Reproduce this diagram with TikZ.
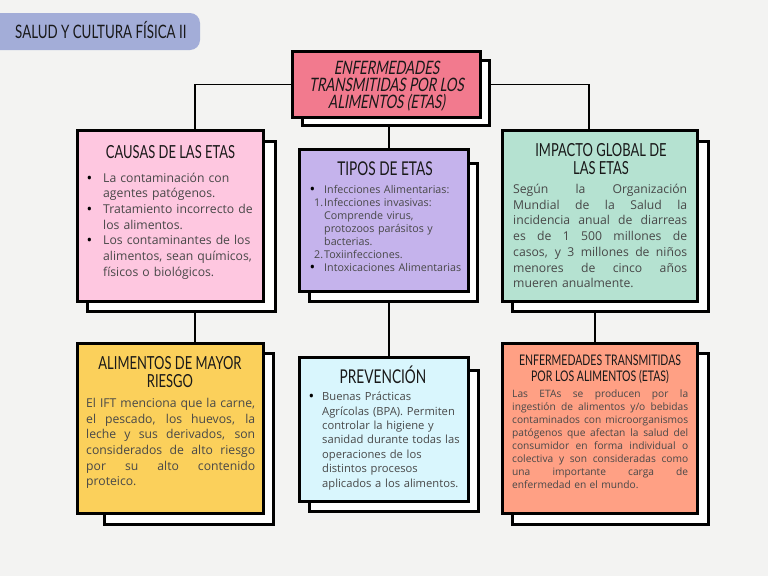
\documentclass[tikz,border=0pt]{standalone}
\usepackage{fontspec}
\usepackage{tikz}
\usetikzlibrary{backgrounds}
\setmainfont{Open Sans}
\newfontfamily\titlefont[FakeStretch=0.72]{Lato}
\newfontfamily\slantfont[FakeStretch=0.72,FakeSlant=0.18]{Lato}
\definecolor{papel}{HTML}{F3F3F2}
\definecolor{lila}{HTML}{A3ADD8}
\definecolor{rojo}{HTML}{F27A8E}
\definecolor{rosa}{HTML}{FEC7E0}
\definecolor{morado}{HTML}{C5B3EC}
\definecolor{verde}{HTML}{B5E2D1}
\definecolor{amarillo}{HTML}{FBD05B}
\definecolor{celeste}{HTML}{D9F6FD}
\definecolor{salmon}{HTML}{FFA084}
\definecolor{letra}{HTML}{484848}
\newcommand{\jl}[1]{\makebox[\hsize][s]{\spaceskip=0pt\xspaceskip=0pt #1}\\}
\newcommand{\pto}[1]{\leavevmode\llap{\raisebox{-1pt}{\color{black}\fontsize{15}{15}\selectfont\textbullet}\hspace{#1}}}
\newcommand{\num}[1]{\leavevmode\llap{#1\hspace{1pt}}}
\tikzset{%
  caja/.style = {rectangle,draw=black,line width=3pt,minimum width=186pt,
        minimum height=171pt},
  sombra/.style = {caja,fill=white},
  titulo/.style = {align=center,inner sep=0pt,text=black!90,
        font=\titlefont\fontsize{18}{18}\selectfont},
  cuerpo/.style = {anchor=north west,inner sep=0pt,align=left,text=letra,
        font=\fontsize{12.2}{15.7}\selectfont},
  chico/.style = {cuerpo,font=\fontsize{10.2}{13}\selectfont},
  medio/.style = {cuerpo,font=\fontsize{11.2}{14.4}\selectfont},
  linea/.style = {draw=black,line width=1.5pt},
  lineagruesa/.style = {draw=black,line width=2.5pt}
}
\begin{document}
\begin{tikzpicture}[x=1pt,y=-1pt]
    \useasboundingbox (0,0) rectangle (768,576);
    \node[rectangle,fill=lila,rounded corners=10pt,minimum width=220pt,minimum height=37pt] (curso) at (90,31.5) {};
    \node[titulo,anchor=west,font=\titlefont\fontsize{18.5}{18.5}\selectfont] (cursotexto) at (15,30.5) {SALUD Y CULTURA FÍSICA II};

    \node[sombra,minimum width=187pt,minimum height=65pt] (mainsombra) at (396,93) {};
    \node[caja,fill=rojo,minimum width=188pt,minimum height=66pt] (main) at (386.5,84.5) {};
    \node[sombra,minimum width=188pt,minimum height=170pt] (causassombra) at (181.5,226.5) {};
    \node[caja,fill=rosa] (causas) at (170.5,216) {};
    \node[sombra,minimum width=168pt,minimum height=138pt] (tipossombra) at (393.5,232.5) {};
    \node[caja,fill=morado,minimum width=169pt,minimum height=142pt] (tipos) at (384,220.5) {};
    \node[sombra,minimum width=196pt,minimum height=170pt] (impactosombra) at (610.5,226.5) {};
    \node[caja,fill=verde,minimum width=195pt] (impacto) at (600,216) {};
    \node[sombra,minimum width=169pt] (alimentossombra) at (189,439) {};
    \node[caja,fill=amarillo,minimum height=170pt] (alimentos) at (170.5,428.5) {};
    \node[sombra,minimum width=169pt,minimum height=141pt] (prevencionsombra) at (394,441) {};
    \node[caja,fill=celeste,minimum width=169pt,minimum height=144pt] (prevencion) at (384,429.5) {};
    \node[sombra,minimum width=196pt] (enfermedadessombra) at (610.5,439) {};
    \node[caja,fill=salmon,minimum width=195pt,minimum height=170pt] (enfermedades) at (600,428.5) {};

    \begin{pgfonlayer}{background}
        \fill[papel] (0,0) rectangle (768,576);
        \draw[linea] (main.west) -| ([xshift=24.5pt]causas.north);
        \draw[linea] (main.east) -| ([xshift=-11pt]impacto.north);
        \draw[lineagruesa] ([xshift=2.5pt]main.south) -- ([xshift=5pt]tipos.north);
        \draw[linea,line width=2pt] ([xshift=24.5pt]causas.south) -- ([xshift=24.5pt]alimentos.north);
        \draw[lineagruesa] ([xshift=5pt]tipos.south) -- ([xshift=5pt]prevencion.north);
        \draw[linea] ([xshift=-5pt]impacto.south) -- ([xshift=-5pt]enfermedades.north);
    \end{pgfonlayer}

    \node[titulo,font=\slantfont\fontsize{18.5}{17.3}\selectfont] (maintexto) at (386.5,86) {ENFERMEDADES\\TRANSMITIDAS POR LOS\\ALIMENTOS (ETAS)};
    \node[titulo] (causastitulo) at (170.5,152) {CAUSAS DE LAS ETAS};
    \node[cuerpo,text width=160pt] (causastexto) at (103,172.5) {\pto{11pt}La contaminación con\\agentes patógenos.\\
        \pto{11pt}Tratamiento incorrecto de\\los alimentos.\\
        \pto{11pt}Los contaminantes de los\\alimentos, sean químicos,\\físicos o biológicos.};
    \node[titulo,font=\titlefont\fontsize{19}{19}\selectfont] (tipostitulo) at (385,169) {TIPOS DE ETAS};
    \node[chico,text width=142pt,font=\fontsize{10.7}{13}\selectfont] (tipostexto) at (324,185) {\pto{9pt}Infecciones Alimentarias:\\
        \num{1.}Infecciones invasivas:\\Comprende virus,\\protozoos parásitos y\\bacterias.\\
        \num{2.}Toxiinfecciones.\\
        \pto{9pt}Intoxicaciones Alimentarias};
    \node[titulo] (impactotitulo) at (601,159.5) {IMPACTO GLOBAL DE\\LAS ETAS};
    \node[cuerpo,text width=174pt] (impactotexto) at (513,184) {\jl{Según la Organización}\jl{Mundial de la Salud la}\jl{incidencia anual de diarreas}\jl{es de 1 500 millones de}\jl{casos, y 3 millones de niños}\jl{menores de cinco años}mueren anualmente.};
    \node[titulo] (alimentostitulo) at (170,372.5) {ALIMENTOS DE MAYOR\\RIESGO};
    \node[cuerpo,text width=169pt] (alimentostexto) at (86,398) {\jl{El IFT menciona que la carne,}\jl{el pescado, los huevos, la}\jl{leche y sus derivados, son}\jl{considerados de alto riesgo}\jl{por su alto contenido}proteico.};
    \node[titulo,font=\titlefont\fontsize{19}{19}\selectfont] (prevenciontitulo) at (383,375) {PREVENCIÓN};
    \node[medio,text width=145pt] (prevenciontexto) at (322,392) {\pto{8pt}Buenas Prácticas\\Agrícolas (BPA). Permiten\\controlar la higiene y\\sanidad durante todas las\\operaciones de los\\distintos procesos\\aplicados a los alimentos.};
    \node[titulo,font=\titlefont\fontsize{14.6}{16}\selectfont] (enfermedadestitulo) at (600,369) {ENFERMEDADES TRANSMITIDAS\\POR LOS ALIMENTOS (ETAS)};
    \node[chico,text width=176pt] (enfermedadestexto) at (512,390) {\jl{Las ETAs se producen por la}\jl{ingestión de alimentos y/o bebidas}\jl{contaminados con microorganismos}\jl{patógenos que afectan la salud del}\jl{consumidor en forma individual o}\jl{colectiva y son consideradas como}\jl{una importante carga de}enfermedad en el mundo.};
\end{tikzpicture}
\end{document}
